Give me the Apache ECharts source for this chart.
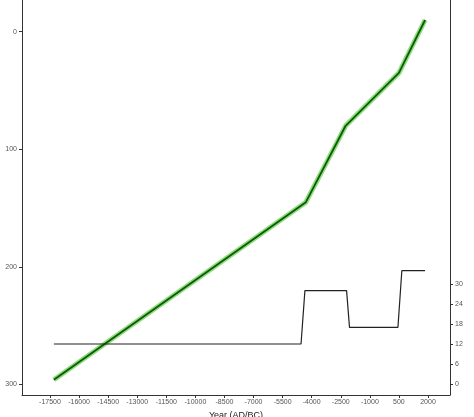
<!DOCTYPE html>
<html><head><meta charset="utf-8">
<script src="https://cdn.jsdelivr.net/npm/echarts@6/dist/echarts.min.js"></script>
<style>html,body{margin:0;background:#fff}#c{width:474px;height:417px}</style>
</head><body><div id="c"></div>
<script>
var depthYears = [-17300, -4300, -2250, 500, 1850];
var depthVals = [296, 145, 80, 35, -10];
var rateYears = [-17300, -4550, -4350, -2200, -2050, 450, 650, 1850];
var rateVals = [12, 12, 28, 28, 17, 17, 34, 34];
var xTicks = [-17500, -16000, -14500, -13000, -11500, -10000, -8500, -7000, -5500, -4000, -2500, -1000, 500, 2000];
var depthTicks = [0, 100, 200, 300];
var rateTicks = [0, 6, 12, 18, 24, 30];

function pairs(xs, ys) {
    return xs.map(function (x, i) { return [x, ys[i]]; });
}
function plain(v) { return String(v); }
var lab = {fontSize: 7, color: '#555', fontFamily: 'Liberation Sans', formatter: plain};

var chart = echarts.init(document.getElementById('c'));
chart.setOption({
    animation: false,
    grid: {left: 22, right: 24, top: 0, bottom: 22, containLabel: false, outerBoundsMode: 'none'},
    xAxis: {
        type: 'value', min: -18945, max: 3135,
        name: 'Year (AD/BC)', nameLocation: 'middle', nameGap: 12,
        nameTextStyle: {fontSize: 9, color: '#222', fontFamily: 'Liberation Sans'},
        axisLine: {onZero: false, lineStyle: {color: '#333'}},
        axisTick: {show: true, customValues: xTicks, length: 3, lineStyle: {color: '#333'}},
        axisLabel: Object.assign({customValues: xTicks, margin: 4}, lab),
        splitLine: {show: false}
    },
    yAxis: [{
        type: 'value', inverse: true, min: -27, max: 309,
        name: 'Depth (cm)', nameLocation: 'middle', nameGap: 16,
        nameTextStyle: {fontSize: 9, color: '#222', fontFamily: 'Liberation Sans'},
        axisLine: {show: true, onZero: false, lineStyle: {color: '#333'}},
        axisTick: {show: true, customValues: depthTicks, length: 3, lineStyle: {color: '#333'}},
        axisLabel: Object.assign({customValues: depthTicks, margin: 5}, lab),
        splitLine: {show: false}
    }, {
        type: 'value', min: -3.3, max: 115.2, position: 'right',
        name: 'Sedimentation rate (cm/kyr)', nameLocation: 'middle', nameGap: 16, nameRotate: -90,
        nameTextStyle: {fontSize: 9, color: '#222', fontFamily: 'Liberation Sans'},
        axisLine: {show: true, onZero: false, lineStyle: {color: '#333'}},
        axisTick: {show: true, customValues: rateTicks, length: 3, lineStyle: {color: '#333'}},
        axisLabel: Object.assign({customValues: rateTicks, margin: 5}, lab),
        splitLine: {show: false}
    }],
    series: [{
        type: 'line', yAxisIndex: 0, data: pairs(depthYears, depthVals), symbol: 'none',
        lineStyle: {color: '#8fdc7a', width: 5}, z: 1
    }, {
        type: 'line', yAxisIndex: 0, data: pairs(depthYears, depthVals), symbol: 'none',
        lineStyle: {color: '#0b5a0b', width: 1.8}, z: 2
    }, {
        type: 'line', yAxisIndex: 1, data: pairs(rateYears, rateVals), symbol: 'none',
        lineStyle: {color: '#222', width: 1.2}, z: 3
    }]
});
</script></body></html>
